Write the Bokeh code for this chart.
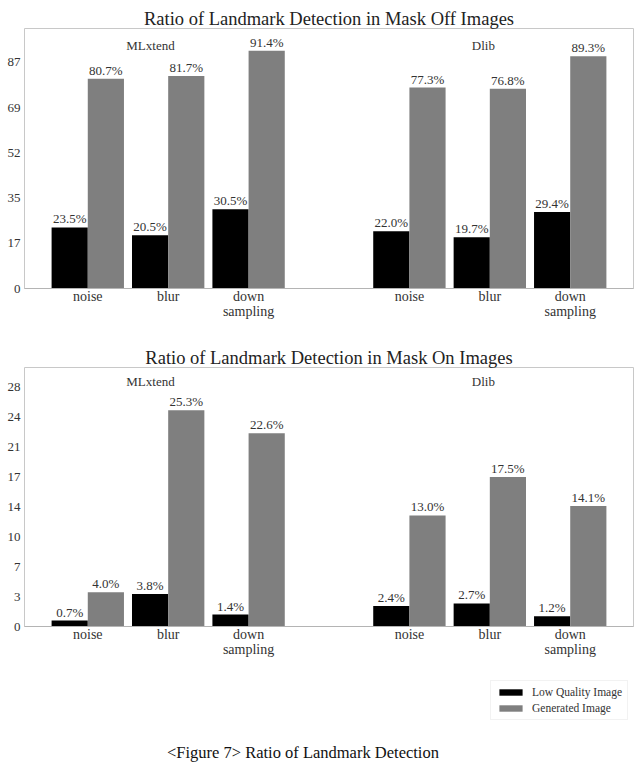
import numpy as np
from bokeh.plotting import figure
from bokeh.models import ColumnDataSource, FixedTicker, Legend, LegendItem, Range1d
from bokeh.layouts import column
from bokeh.embed import file_html
from bokeh.resources import INLINE
from bokeh.core.properties import value

# ---------------- data ----------------
methods = ["MLxtend", "Dlib"]
degradations = ["noise", "blur", "down\nsampling"]
series = ["Low Quality Image", "Generated Image"]

off_mlxtend_low = [23.5, 20.5, 30.5]
off_mlxtend_gen = [80.7, 81.7, 91.4]
off_dlib_low = [22.0, 19.7, 29.4]
off_dlib_gen = [77.3, 76.8, 89.3]

on_mlxtend_low = [0.7, 3.8, 1.4]
on_mlxtend_gen = [4.0, 25.3, 22.6]
on_dlib_low = [2.4, 2.7, 1.2]
on_dlib_gen = [13.0, 17.5, 14.1]

off_ticks = [0, 17.4, 34.8, 52.2, 69.6, 87]
off_tick_labels = ["0", "17", "35", "52", "69", "87"]
on_ticks = [0, 3.5, 7, 10.5, 14, 17.5, 21, 24.5, 28]
on_tick_labels = ["0", "3", "7", "10", "14", "17", "21", "24", "28"]

title_off = "Ratio of Landmark Detection in Mask Off Images"
title_on = "Ratio of Landmark Detection in Mask On Images"
caption = "<Figure 7> Ratio of Landmark Detection"

# ---------------- style ----------------
SERIF = "Liberation Serif"
LOW_COLOR = "#000000"
GEN_COLOR = "#7f7f7f"
TEXT_COLOR = "#333333"
W = 643
BAR_W = 0.45
GROUP_GAP = 4
METHOD_LABEL_X = [0.78, 4.92]


def make_chart(title, low_lists, gen_lists, y_end, ticks, tick_labels,
               height, border_top, border_bottom, method_label_y):
    p = figure(width=W, height=height, output_backend="svg", toolbar_location=None,
               x_range=Range1d(-0.787, 6.787), y_range=Range1d(0, y_end),
               min_border_left=24, min_border_right=10,
               min_border_top=border_top, min_border_bottom=border_bottom,
               title=title)
    p.title.align = "center"
    p.title.text_font = SERIF
    p.title.text_font_size = "18.5px"
    p.title.text_font_style = "normal"
    p.title.text_color = "#222222"
    p.title.standoff = 0

    xs_low, xs_gen, low_vals, gen_vals = [], [], [], []
    cat_ticks, cat_over = [], {}
    for g, (lows, gens) in enumerate(zip(low_lists, gen_lists)):
        for i, name in enumerate(degradations):
            c = i + GROUP_GAP * g
            cat_ticks.append(c)
            cat_over[c] = name
            xs_low.append(c - BAR_W / 2)
            xs_gen.append(c + BAR_W / 2)
            low_vals.append(lows[i])
            gen_vals.append(gens[i])

    src_low = ColumnDataSource(dict(x=xs_low, top=low_vals,
                                    lab=[f"{v:.1f}%" for v in low_vals]))
    src_gen = ColumnDataSource(dict(x=xs_gen, top=gen_vals,
                                    lab=[f"{v:.1f}%" for v in gen_vals]))
    p.vbar(x="x", top="top", width=BAR_W, source=src_low,
           fill_color=LOW_COLOR, line_color=None)
    p.vbar(x="x", top="top", width=BAR_W, source=src_gen,
           fill_color=GEN_COLOR, line_color=None)
    for src in (src_low, src_gen):
        p.text(x="x", y="top", text="lab", source=src, text_align="center",
               text_baseline="bottom", y_offset=-1, text_font=value(SERIF),
               text_font_size="13px", text_color=TEXT_COLOR)

    p.text(x=METHOD_LABEL_X, y=[method_label_y] * 2, text=methods,
           text_align="center", text_baseline="middle", text_font=value(SERIF),
           text_font_size="13px", text_color=TEXT_COLOR)

    p.xgrid.visible = False
    p.ygrid.visible = False
    p.outline_line_color = "#c8c8c8"

    p.xaxis.ticker = FixedTicker(ticks=cat_ticks)
    p.xaxis.major_label_overrides = cat_over
    p.xaxis.major_tick_out = 0
    p.xaxis.major_tick_in = 0
    p.xaxis.minor_tick_out = 0
    p.xaxis.minor_tick_in = 0
    p.xaxis.major_label_standoff = 0
    p.xaxis.axis_line_color = "#b4b4b4"
    p.xaxis.major_label_text_font = SERIF
    p.xaxis.major_label_text_font_size = "14px"
    p.xaxis.major_label_text_color = TEXT_COLOR
    p.xaxis.major_label_text_line_height = 1.0

    p.yaxis.ticker = FixedTicker(ticks=ticks)
    p.yaxis.major_label_overrides = dict(zip(ticks, tick_labels))
    p.yaxis.major_tick_out = 0
    p.yaxis.major_tick_in = 0
    p.yaxis.minor_tick_out = 0
    p.yaxis.minor_tick_in = 0
    p.yaxis.major_label_standoff = 4
    p.yaxis.axis_line_color = None
    p.yaxis.major_label_text_font = SERIF
    p.yaxis.major_label_text_font_size = "13px"
    p.yaxis.major_label_text_color = TEXT_COLOR
    return p


p1 = make_chart(title_off, [off_mlxtend_low, off_dlib_low],
                [off_mlxtend_gen, off_dlib_gen],
                100, off_ticks, off_tick_labels, 335, 28, 47, 93.3)
p2 = make_chart(title_on, [on_mlxtend_low, on_dlib_low],
                [on_mlxtend_gen, on_dlib_gen],
                30.3, on_ticks, on_tick_labels, 330, 32, 39, 28.65)

# legend + caption strip
H3 = 98
p3 = figure(width=W, height=H3, output_backend="svg", toolbar_location=None,
            x_range=Range1d(0, W), y_range=Range1d(0, H3),
            x_axis_location=None, y_axis_location=None,
            min_border_left=0, min_border_right=0, min_border_top=0, min_border_bottom=0)
p3.xgrid.visible = False
p3.ygrid.visible = False
p3.outline_line_color = None
p3.background_fill_color = None
p3.border_fill_color = None
# legend swatch proxies (no visible marks)
proxy_low = p3.vbar(x=np.array([np.nan]), top=np.array([np.nan]), width=1,
                    fill_color=LOW_COLOR, line_color=None)
proxy_gen = p3.vbar(x=np.array([np.nan]), top=np.array([np.nan]), width=1,
                    fill_color=GEN_COLOR, line_color=None)
legend = Legend(items=[LegendItem(label=series[0], renderers=[proxy_low]),
                       LegendItem(label=series[1], renderers=[proxy_gen])],
                location=(466, 43), orientation="vertical",
                glyph_width=29, glyph_height=8, label_height=12, spacing=4,
                padding=5, margin=0, label_standoff=7,
                label_text_font=SERIF, label_text_font_size="11.5px",
                label_text_color=TEXT_COLOR, border_line_color="#e6e6e6",
                background_fill_color="white")
p3.add_layout(legend)
p3.text(x=[294], y=[11], text=[caption], text_align="center", text_baseline="middle",
        text_font=value(SERIF), text_font_size="16.5px", text_color="#111111")

layout = column(p1, p2, p3, spacing=0)
open("out.html", "w").write(file_html(layout, INLINE))
